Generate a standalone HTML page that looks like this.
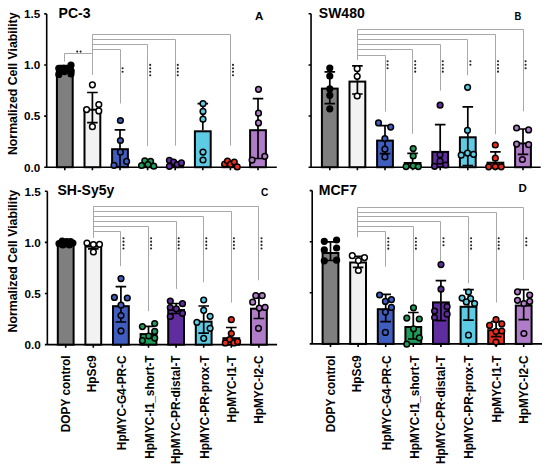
<!DOCTYPE html><html><head><meta charset="utf-8"><style>html,body{margin:0;padding:0;background:#fff;}svg{display:block;}text{font-family:"Liberation Sans",sans-serif;font-weight:bold;}</style></head><body>
<svg width="550" height="467" viewBox="0 0 550 467">
<g fill="none" stroke="#a8a8a8" stroke-width="1"><path d="M92.5 34.5H230.5V145.6"/><path d="M92.5 39.5H175.5V145.7"/><path d="M92.5 44.5H147.5V146"/><path d="M92.5 49.5H120.5V103.5"/><path d="M92.5 34.5V74.9"/></g>
<g fill="#222"><circle cx="233" cy="64.9" r="1.05"/><circle cx="233" cy="68.35" r="1.05"/><circle cx="233" cy="71.8" r="1.05"/><circle cx="233" cy="75.25" r="1.05"/><circle cx="177.8" cy="64.9" r="1.05"/><circle cx="177.8" cy="68.35" r="1.05"/><circle cx="177.8" cy="71.8" r="1.05"/><circle cx="177.8" cy="75.25" r="1.05"/><circle cx="150.2" cy="64.9" r="1.05"/><circle cx="150.2" cy="68.35" r="1.05"/><circle cx="150.2" cy="71.8" r="1.05"/><circle cx="150.2" cy="75.25" r="1.05"/><circle cx="122.6" cy="68.3" r="1.05"/><circle cx="122.6" cy="71.75" r="1.05"/></g>
<path d="M46.7 13.9V167.2M44.2 167.2H276.8M44.2 116.1H46.7M44.2 65H46.7M44.2 13.9H46.7M64.8 167.2V170.2M92.4 167.2V170.2M120 167.2V170.2M147.6 167.2V170.2M175.2 167.2V170.2M202.8 167.2V170.2M230.4 167.2V170.2M258 167.2V170.2" fill="none" stroke="#000" stroke-width="1.6"/>
<rect x="56.9" y="68" width="15.8" height="99.2" fill="#7f7f7f" stroke="#000" stroke-width="2"/>
<rect x="84.5" y="109.7" width="15.8" height="57.5" fill="#f2f2f2" stroke="#000" stroke-width="2"/>
<rect x="112.1" y="149.2" width="15.8" height="18" fill="#3f5ebf" stroke="#000" stroke-width="2"/>
<rect x="139.7" y="165" width="15.8" height="2.2" fill="#1f9e5b" stroke="#000" stroke-width="2"/>
<rect x="167.3" y="165" width="15.8" height="2.2" fill="#602d9e" stroke="#000" stroke-width="2"/>
<rect x="194.9" y="131.3" width="15.8" height="35.9" fill="#5ecbe4" stroke="#000" stroke-width="2"/>
<rect x="222.5" y="165" width="15.8" height="2.2" fill="#ec2d1e" stroke="#000" stroke-width="2"/>
<rect x="250.1" y="130.2" width="15.8" height="37" fill="#b07cc8" stroke="#000" stroke-width="2"/>
<g fill="none" stroke="#000" stroke-width="1.7"><path d="M59.5 65.5H70.1M64.8 65.5V67"/><path d="M64.8 67V71.5M59.5 71.5H70.1"/><path d="M87.1 92.5H97.7M92.4 92.5V108.7"/><path d="M92.4 108.7V122.6M87.1 122.6H97.7"/><path d="M114.7 129.9H125.3M120 129.9V148.2"/><path d="M120 148.2V166.8M114.7 166.8H125.3"/><path d="M197.5 103.7H208.1M202.8 103.7V130.3"/><path d="M252.7 98.7H263.3M258 98.7V129.2"/><path d="M258 129.2V158.5M252.7 158.5H263.3"/></g>
<g fill="#000000" stroke="#000" stroke-width="1.5"><circle cx="58.8" cy="68.3" r="2.85"/><circle cx="63.8" cy="68.3" r="2.85"/><circle cx="67.8" cy="68.6" r="2.85"/><circle cx="71" cy="65.2" r="2.85"/><circle cx="71.2" cy="71" r="2.85"/><circle cx="64.5" cy="71.6" r="2.85"/><circle cx="58.8" cy="74.4" r="2.85"/><circle cx="71" cy="74" r="2.85"/></g>
<g fill="#ffffff" stroke="#000" stroke-width="1.5"><circle cx="92.4" cy="84.8" r="2.85"/><circle cx="86.6" cy="109.6" r="2.85"/><circle cx="98.8" cy="104.5" r="2.85"/><circle cx="98.8" cy="110.9" r="2.85"/><circle cx="92.4" cy="126.7" r="2.85"/></g>
<g fill="#3f5ebf" stroke="#000" stroke-width="1.5"><circle cx="120.4" cy="120.5" r="2.85"/><circle cx="120.4" cy="140.5" r="2.85"/><circle cx="120.4" cy="152.2" r="2.85"/><circle cx="126.6" cy="161.4" r="2.85"/><circle cx="114" cy="165.3" r="2.85"/></g>
<g fill="#1f9e5b" stroke="#000" stroke-width="1.5"><circle cx="144.8" cy="160.8" r="2.85"/><circle cx="150.6" cy="161.4" r="2.85"/><circle cx="141.6" cy="165.5" r="2.85"/><circle cx="148" cy="164.6" r="2.85"/><circle cx="153.8" cy="166.2" r="2.85"/></g>
<g fill="#602d9e" stroke="#000" stroke-width="1.5"><circle cx="169.4" cy="160.3" r="2.85"/><circle cx="173.7" cy="162" r="2.85"/><circle cx="177.2" cy="164.6" r="2.85"/><circle cx="181.4" cy="162.9" r="2.85"/><circle cx="169.4" cy="166.3" r="2.85"/></g>
<g fill="#5ecbe4" stroke="#000" stroke-width="1.5"><circle cx="203" cy="103.7" r="2.85"/><circle cx="203" cy="111.4" r="2.85"/><circle cx="203" cy="119.2" r="2.85"/><circle cx="203" cy="152.1" r="2.85"/><circle cx="203" cy="160" r="2.85"/></g>
<g fill="#ec2d1e" stroke="#000" stroke-width="1.5"><circle cx="224.7" cy="164" r="2.85"/><circle cx="227.5" cy="161" r="2.85"/><circle cx="230.4" cy="164.4" r="2.85"/><circle cx="234.3" cy="162" r="2.85"/><circle cx="237.2" cy="166.9" r="2.85"/></g>
<g fill="#b07cc8" stroke="#000" stroke-width="1.5"><circle cx="258.5" cy="89.3" r="2.85"/><circle cx="258.5" cy="113.2" r="2.85"/><circle cx="258.5" cy="122.9" r="2.85"/><circle cx="264.8" cy="156.3" r="2.85"/><circle cx="252.1" cy="160.1" r="2.85"/></g>
<text x="40.2" y="171.5" font-size="11.7" text-anchor="end">0.0</text>
<text x="40.2" y="120.4" font-size="11.7" text-anchor="end">0.5</text>
<text x="40.2" y="69.3" font-size="11.7" text-anchor="end">1.0</text>
<text x="40.2" y="18.2" font-size="11.7" text-anchor="end">1.5</text>
<text transform="translate(17.1 83.75) rotate(-90)" font-size="12.3" text-anchor="middle">Normalized Cell Viability</text>
<text transform="translate(58.6 18.2) scale(0.96 1)" font-size="14.6">PC-3</text>
<text transform="translate(255 19.8) scale(1.0 1)" font-size="11.5">A</text>
<g fill="none" stroke="#a8a8a8" stroke-width="1"><path d="M357.5 29.5H523.5V111.3"/><path d="M357.5 34.5H495.5V134.2"/><path d="M357.5 39.5H467.5V75.3"/><path d="M357.5 44.5H440.5V90.6"/><path d="M357.5 49.5H412.5V133.8"/><path d="M357.5 55.5H385.5V111.6"/><path d="M357.5 29.5V60"/></g>
<g fill="#222"><circle cx="525.6" cy="61.3" r="1.05"/><circle cx="525.6" cy="64.75" r="1.05"/><circle cx="525.6" cy="68.2" r="1.05"/><circle cx="498" cy="61.3" r="1.05"/><circle cx="498" cy="64.75" r="1.05"/><circle cx="498" cy="68.2" r="1.05"/><circle cx="498" cy="71.65" r="1.05"/><circle cx="470.4" cy="61.3" r="1.05"/><circle cx="470.4" cy="64.75" r="1.05"/><circle cx="442.8" cy="61.3" r="1.05"/><circle cx="442.8" cy="64.75" r="1.05"/><circle cx="442.8" cy="68.2" r="1.05"/><circle cx="442.8" cy="71.65" r="1.05"/><circle cx="415.2" cy="61.3" r="1.05"/><circle cx="415.2" cy="64.75" r="1.05"/><circle cx="415.2" cy="68.2" r="1.05"/><circle cx="415.2" cy="71.65" r="1.05"/><circle cx="387.6" cy="61.3" r="1.05"/><circle cx="387.6" cy="64.75" r="1.05"/><circle cx="387.6" cy="68.2" r="1.05"/></g>
<path d="M311.05 13.8V167.2M308.55 167.2H540.7M308.55 116.07H311.05M308.55 64.93H311.05M308.55 13.8H311.05M329.8 167.2V170.2M357.4 167.2V170.2M385 167.2V170.2M412.6 167.2V170.2M440.2 167.2V170.2M467.8 167.2V170.2M495.4 167.2V170.2M523 167.2V170.2" fill="none" stroke="#000" stroke-width="1.6"/>
<rect x="321.9" y="88.6" width="15.8" height="78.6" fill="#7f7f7f" stroke="#000" stroke-width="2"/>
<rect x="349.5" y="81.6" width="15.8" height="85.6" fill="#f2f2f2" stroke="#000" stroke-width="2"/>
<rect x="377.1" y="140.6" width="15.8" height="26.6" fill="#3f5ebf" stroke="#000" stroke-width="2"/>
<rect x="404.7" y="163" width="15.8" height="4.2" fill="#1f9e5b" stroke="#000" stroke-width="2"/>
<rect x="432.3" y="151.9" width="15.8" height="15.3" fill="#602d9e" stroke="#000" stroke-width="2"/>
<rect x="459.9" y="137.3" width="15.8" height="29.9" fill="#5ecbe4" stroke="#000" stroke-width="2"/>
<rect x="487.5" y="162.7" width="15.8" height="4.5" fill="#ec2d1e" stroke="#000" stroke-width="2"/>
<rect x="515.1" y="143.4" width="15.8" height="23.8" fill="#b07cc8" stroke="#000" stroke-width="2"/>
<g fill="none" stroke="#000" stroke-width="1.7"><path d="M324.5 71.8H335.1M329.8 71.8V87.6"/><path d="M329.8 87.6V103.7M324.5 103.7H335.1"/><path d="M352.1 65.8H362.7M357.4 65.8V80.6"/><path d="M357.4 80.6V94M352.1 94H362.7"/><path d="M379.7 125.7H390.3M385 125.7V139.6"/><path d="M385 139.6V153.7M379.7 153.7H390.3"/><path d="M407.3 153.4H417.9M412.6 153.4V162"/><path d="M434.9 124.6H445.5M440.2 124.6V150.9"/><path d="M462.5 106.8H473.1M467.8 106.8V136.3"/><path d="M467.8 136.3V165.5M462.5 165.5H473.1"/><path d="M490.1 151.8H500.7M495.4 151.8V161.7"/><path d="M517.7 129H528.3M523 129V142.4"/><path d="M523 142.4V154.3M517.7 154.3H528.3"/></g>
<g fill="#000000" stroke="#000" stroke-width="1.5"><circle cx="329.8" cy="68" r="2.85"/><circle cx="329.8" cy="76" r="2.85"/><circle cx="329.8" cy="88.9" r="2.85"/><circle cx="329.8" cy="95.3" r="2.85"/><circle cx="329.8" cy="108.8" r="2.85"/></g>
<g fill="#ffffff" stroke="#000" stroke-width="1.5"><circle cx="357.2" cy="68.7" r="2.85"/><circle cx="357.2" cy="76.3" r="2.85"/><circle cx="357.2" cy="96" r="2.85"/></g>
<g fill="#3f5ebf" stroke="#000" stroke-width="1.5"><circle cx="378.5" cy="122.9" r="2.85"/><circle cx="390.7" cy="127.1" r="2.85"/><circle cx="384.9" cy="138.5" r="2.85"/><circle cx="384.9" cy="149.2" r="2.85"/><circle cx="384.9" cy="156.9" r="2.85"/></g>
<g fill="#1f9e5b" stroke="#000" stroke-width="1.5"><circle cx="413.2" cy="148.6" r="2.85"/><circle cx="413.2" cy="156" r="2.85"/><circle cx="406.1" cy="166.6" r="2.85"/><circle cx="413.2" cy="165.9" r="2.85"/><circle cx="418.3" cy="166.6" r="2.85"/></g>
<g fill="#602d9e" stroke="#000" stroke-width="1.5"><circle cx="440.1" cy="105.2" r="2.85"/><circle cx="440" cy="154.8" r="2.85"/><circle cx="440" cy="161.2" r="2.85"/><circle cx="434.6" cy="166.3" r="2.85"/><circle cx="445.7" cy="165" r="2.85"/></g>
<g fill="#5ecbe4" stroke="#000" stroke-width="1.5"><circle cx="467.6" cy="87.3" r="2.85"/><circle cx="467.5" cy="130.3" r="2.85"/><circle cx="461.2" cy="155.2" r="2.85"/><circle cx="467.5" cy="153.1" r="2.85"/><circle cx="473.5" cy="154.3" r="2.85"/></g>
<g fill="#ec2d1e" stroke="#000" stroke-width="1.5"><circle cx="495.3" cy="145" r="2.85"/><circle cx="495.3" cy="158.2" r="2.85"/><circle cx="488.7" cy="166.8" r="2.85"/><circle cx="495.3" cy="166.6" r="2.85"/><circle cx="501.2" cy="166.8" r="2.85"/></g>
<g fill="#b07cc8" stroke="#000" stroke-width="1.5"><circle cx="516.6" cy="128" r="2.85"/><circle cx="528.6" cy="129.9" r="2.85"/><circle cx="516.6" cy="144.1" r="2.85"/><circle cx="528.6" cy="144.7" r="2.85"/><circle cx="522.4" cy="159.5" r="2.85"/></g>
<text transform="translate(318.8 18) scale(0.96 1)" font-size="14.6">SW480</text>
<text transform="translate(514.5 19.8) scale(0.8 1)" font-size="11.8">B</text>
<g fill="none" stroke="#a8a8a8" stroke-width="1"><path d="M93.5 206.5H258.5V280.3"/><path d="M93.5 211.5H231.5V302.6"/><path d="M93.5 216.5H203.5V282.3"/><path d="M93.5 221.5H176.5V288.9"/><path d="M93.5 226.5H148.5V311.2"/><path d="M93.5 231.5H120.5V266.1"/><path d="M93.5 206.5V237.9"/></g>
<g fill="#222"><circle cx="261.5" cy="238.2" r="1.05"/><circle cx="261.5" cy="241.65" r="1.05"/><circle cx="261.5" cy="245.1" r="1.05"/><circle cx="261.5" cy="248.55" r="1.05"/><circle cx="233.9" cy="238.2" r="1.05"/><circle cx="233.9" cy="241.65" r="1.05"/><circle cx="233.9" cy="245.1" r="1.05"/><circle cx="233.9" cy="248.55" r="1.05"/><circle cx="206.3" cy="238.2" r="1.05"/><circle cx="206.3" cy="241.65" r="1.05"/><circle cx="206.3" cy="245.1" r="1.05"/><circle cx="206.3" cy="248.55" r="1.05"/><circle cx="178.7" cy="238.2" r="1.05"/><circle cx="178.7" cy="241.65" r="1.05"/><circle cx="178.7" cy="245.1" r="1.05"/><circle cx="178.7" cy="248.55" r="1.05"/><circle cx="151.1" cy="238.2" r="1.05"/><circle cx="151.1" cy="241.65" r="1.05"/><circle cx="151.1" cy="245.1" r="1.05"/><circle cx="151.1" cy="248.55" r="1.05"/><circle cx="123.5" cy="238.2" r="1.05"/><circle cx="123.5" cy="241.65" r="1.05"/><circle cx="123.5" cy="245.1" r="1.05"/><circle cx="123.5" cy="248.55" r="1.05"/></g>
<path d="M47.35 191.3V344.65M44.85 344.65H277.1M44.85 293.53H47.35M44.85 242.42H47.35M44.85 191.3H47.35M65.7 344.65V347.65M93.3 344.65V347.65M120.9 344.65V347.65M148.5 344.65V347.65M176.1 344.65V347.65M203.7 344.65V347.65M231.3 344.65V347.65M258.9 344.65V347.65" fill="none" stroke="#000" stroke-width="1.6"/>
<rect x="57.8" y="242.7" width="15.8" height="101.95" fill="#7f7f7f" stroke="#000" stroke-width="2"/>
<rect x="85.4" y="246.6" width="15.8" height="98.05" fill="#f2f2f2" stroke="#000" stroke-width="2"/>
<rect x="113" y="306.2" width="15.8" height="38.45" fill="#3f5ebf" stroke="#000" stroke-width="2"/>
<rect x="140.6" y="334.1" width="15.8" height="10.55" fill="#1f9e5b" stroke="#000" stroke-width="2"/>
<rect x="168.2" y="310" width="15.8" height="34.65" fill="#602d9e" stroke="#000" stroke-width="2"/>
<rect x="195.8" y="321.6" width="15.8" height="23.05" fill="#5ecbe4" stroke="#000" stroke-width="2"/>
<rect x="223.4" y="338.2" width="15.8" height="6.45" fill="#ec2d1e" stroke="#000" stroke-width="2"/>
<rect x="251" y="308.7" width="15.8" height="35.95" fill="#b07cc8" stroke="#000" stroke-width="2"/>
<g fill="none" stroke="#000" stroke-width="1.7"><path d="M60.4 241H71M65.7 241V241.7"/><path d="M88 243.5H98.6M93.3 243.5V245.6"/><path d="M93.3 245.6V248.8M88 248.8H98.6"/><path d="M115.6 286.6H126.2M120.9 286.6V305.2"/><path d="M120.9 305.2V322M115.6 322H126.2"/><path d="M143.2 326.3H153.8M148.5 326.3V333.1"/><path d="M170.8 303.5H181.4M176.1 303.5V309"/><path d="M176.1 309V313.5M170.8 313.5H181.4"/><path d="M198.4 306H209M203.7 306V320.6"/><path d="M203.7 320.6V333.1M198.4 333.1H209"/><path d="M226 327.5H236.6M231.3 327.5V337.2"/><path d="M253.6 297H264.2M258.9 297V307.7"/><path d="M258.9 307.7V318.5M253.6 318.5H264.2"/></g>
<g fill="#000000" stroke="#000" stroke-width="1.5"><circle cx="59" cy="243.6" r="2.85"/><circle cx="62.2" cy="241" r="2.85"/><circle cx="66.7" cy="241.7" r="2.85"/><circle cx="70.6" cy="241.5" r="2.85"/><circle cx="72.9" cy="243" r="2.85"/><circle cx="69.3" cy="244.9" r="2.85"/><circle cx="62.9" cy="244.9" r="2.85"/></g>
<g fill="#ffffff" stroke="#000" stroke-width="1.5"><circle cx="87" cy="243" r="2.85"/><circle cx="93.4" cy="244.5" r="2.85"/><circle cx="99.5" cy="244.3" r="2.85"/><circle cx="93.4" cy="252" r="2.85"/></g>
<g fill="#3f5ebf" stroke="#000" stroke-width="1.5"><circle cx="121" cy="278.6" r="2.85"/><circle cx="114.4" cy="297.4" r="2.85"/><circle cx="127.3" cy="298" r="2.85"/><circle cx="121" cy="305.2" r="2.85"/><circle cx="121" cy="315.5" r="2.85"/><circle cx="121" cy="330.9" r="2.85"/></g>
<g fill="#1f9e5b" stroke="#000" stroke-width="1.5"><circle cx="142.4" cy="326.6" r="2.85"/><circle cx="154.7" cy="323.5" r="2.85"/><circle cx="154.7" cy="331.4" r="2.85"/><circle cx="148.7" cy="336" r="2.85"/><circle cx="154.7" cy="338.1" r="2.85"/><circle cx="142.4" cy="340.7" r="2.85"/></g>
<g fill="#602d9e" stroke="#000" stroke-width="1.5"><circle cx="170.3" cy="301.1" r="2.85"/><circle cx="182.5" cy="303.7" r="2.85"/><circle cx="170.3" cy="307.5" r="2.85"/><circle cx="176.3" cy="308.8" r="2.85"/><circle cx="182.5" cy="313.3" r="2.85"/><circle cx="170.3" cy="316.5" r="2.85"/></g>
<g fill="#5ecbe4" stroke="#000" stroke-width="1.5"><circle cx="203.7" cy="300" r="2.85"/><circle cx="203.7" cy="310.3" r="2.85"/><circle cx="210.1" cy="316.3" r="2.85"/><circle cx="196.9" cy="322.3" r="2.85"/><circle cx="210.1" cy="328.3" r="2.85"/><circle cx="203.7" cy="338.3" r="2.85"/></g>
<g fill="#ec2d1e" stroke="#000" stroke-width="1.5"><circle cx="231.3" cy="319.7" r="2.85"/><circle cx="231.3" cy="333.5" r="2.85"/><circle cx="229.6" cy="339.5" r="2.85"/><circle cx="225.3" cy="342.9" r="2.85"/><circle cx="233.9" cy="342.9" r="2.85"/><circle cx="237.6" cy="341.7" r="2.85"/></g>
<g fill="#b07cc8" stroke="#000" stroke-width="1.5"><circle cx="255.8" cy="295.7" r="2.85"/><circle cx="262.2" cy="295.7" r="2.85"/><circle cx="252.7" cy="302.2" r="2.85"/><circle cx="259.3" cy="308.1" r="2.85"/><circle cx="265.1" cy="307.4" r="2.85"/><circle cx="258.5" cy="328.3" r="2.85"/></g>
<text x="40.85" y="348.95" font-size="11.7" text-anchor="end">0.0</text>
<text x="40.85" y="297.83" font-size="11.7" text-anchor="end">0.5</text>
<text x="40.85" y="246.72" font-size="11.7" text-anchor="end">1.0</text>
<text x="40.85" y="195.6" font-size="11.7" text-anchor="end">1.5</text>
<text transform="translate(17.1 261.18) rotate(-90)" font-size="12.3" text-anchor="middle">Normalized Cell Viability</text>
<text transform="translate(57.5 194.6) scale(0.96 1)" font-size="14.6">SH-Sy5y</text>
<text transform="translate(261.1 195.6) scale(0.88 1)" font-size="11.5">C</text>
<g fill="none" stroke="#a8a8a8" stroke-width="1"><path d="M357.5 207.5H523.5V280"/><path d="M357.5 212.5H496.5V302.5"/><path d="M357.5 216.5H468.5V283.2"/><path d="M357.5 221.5H440.5V261.5"/><path d="M357.5 226.5H413.5V304.6"/><path d="M357.5 231.5H385.5V266.7"/><path d="M357.5 207.5V237.1"/></g>
<g fill="#222"><circle cx="526.3" cy="238.3" r="1.05"/><circle cx="526.3" cy="241.75" r="1.05"/><circle cx="526.3" cy="245.2" r="1.05"/><circle cx="498.7" cy="238.3" r="1.05"/><circle cx="498.7" cy="241.75" r="1.05"/><circle cx="498.7" cy="245.2" r="1.05"/><circle cx="498.7" cy="248.65" r="1.05"/><circle cx="471.1" cy="238.3" r="1.05"/><circle cx="471.1" cy="241.75" r="1.05"/><circle cx="471.1" cy="245.2" r="1.05"/><circle cx="471.1" cy="248.65" r="1.05"/><circle cx="443.5" cy="238.3" r="1.05"/><circle cx="443.5" cy="241.75" r="1.05"/><circle cx="443.5" cy="245.2" r="1.05"/><circle cx="415.9" cy="238.3" r="1.05"/><circle cx="415.9" cy="241.75" r="1.05"/><circle cx="415.9" cy="245.2" r="1.05"/><circle cx="415.9" cy="248.65" r="1.05"/><circle cx="388.3" cy="238.3" r="1.05"/><circle cx="388.3" cy="241.75" r="1.05"/><circle cx="388.3" cy="245.2" r="1.05"/><circle cx="388.3" cy="248.65" r="1.05"/></g>
<path d="M312.2 190.6V343.9M309.7 343.9H542M309.7 292.8H312.2M309.7 241.7H312.2M309.7 190.6H312.2M330.5 343.9V346.9M358.1 343.9V346.9M385.7 343.9V346.9M413.3 343.9V346.9M440.9 343.9V346.9M468.5 343.9V346.9M496.1 343.9V346.9M523.7 343.9V346.9" fill="none" stroke="#000" stroke-width="1.6"/>
<rect x="322.6" y="253" width="15.8" height="90.9" fill="#7f7f7f" stroke="#000" stroke-width="2"/>
<rect x="350.2" y="262.5" width="15.8" height="81.4" fill="#f2f2f2" stroke="#000" stroke-width="2"/>
<rect x="377.8" y="309.2" width="15.8" height="34.7" fill="#3f5ebf" stroke="#000" stroke-width="2"/>
<rect x="405.4" y="327" width="15.8" height="16.9" fill="#1f9e5b" stroke="#000" stroke-width="2"/>
<rect x="433" y="302.4" width="15.8" height="41.5" fill="#602d9e" stroke="#000" stroke-width="2"/>
<rect x="460.6" y="306.8" width="15.8" height="37.1" fill="#5ecbe4" stroke="#000" stroke-width="2"/>
<rect x="488.2" y="330.2" width="15.8" height="13.7" fill="#ec2d1e" stroke="#000" stroke-width="2"/>
<rect x="515.8" y="305.6" width="15.8" height="38.3" fill="#b07cc8" stroke="#000" stroke-width="2"/>
<g fill="none" stroke="#000" stroke-width="1.7"><path d="M325.2 241.8H335.8M330.5 241.8V252"/><path d="M330.5 252V260.5M325.2 260.5H335.8"/><path d="M352.8 256.3H363.4M358.1 256.3V261.5"/><path d="M358.1 261.5V267.3M352.8 267.3H363.4"/><path d="M380.4 294.3H391M385.7 294.3V308.2"/><path d="M385.7 308.2V321.7M380.4 321.7H391"/><path d="M408 312.5H418.6M413.3 312.5V326"/><path d="M413.3 326V339M408 339H418.6"/><path d="M435.6 280.6H446.2M440.9 280.6V301.4"/><path d="M440.9 301.4V320.7M435.6 320.7H446.2"/><path d="M463.2 289.6H473.8M468.5 289.6V305.8"/><path d="M468.5 305.8V320.2M463.2 320.2H473.8"/><path d="M490.8 321.7H501.4M496.1 321.7V329.2"/><path d="M496.1 329.2V336.7M490.8 336.7H501.4"/><path d="M518.4 289.6H529M523.7 289.6V304.6"/><path d="M523.7 304.6V319.6M518.4 319.6H529"/></g>
<g fill="#000000" stroke="#000" stroke-width="1.5"><circle cx="324.3" cy="241.3" r="2.85"/><circle cx="336.6" cy="240" r="2.85"/><circle cx="324.3" cy="249.9" r="2.85"/><circle cx="336.6" cy="248" r="2.85"/><circle cx="324.3" cy="260.8" r="2.85"/><circle cx="336.6" cy="260.2" r="2.85"/></g>
<g fill="#ffffff" stroke="#000" stroke-width="1.5"><circle cx="352.3" cy="255.7" r="2.85"/><circle cx="364.5" cy="257.6" r="2.85"/><circle cx="358.4" cy="260.6" r="2.85"/><circle cx="358.4" cy="270.5" r="2.85"/></g>
<g fill="#3f5ebf" stroke="#000" stroke-width="1.5"><circle cx="379.6" cy="295" r="2.85"/><circle cx="391.4" cy="299.7" r="2.85"/><circle cx="385.4" cy="301.4" r="2.85"/><circle cx="391.4" cy="307.4" r="2.85"/><circle cx="385.4" cy="312.1" r="2.85"/><circle cx="385.4" cy="332.4" r="2.85"/></g>
<g fill="#1f9e5b" stroke="#000" stroke-width="1.5"><circle cx="413.5" cy="307.8" r="2.85"/><circle cx="406.8" cy="318.1" r="2.85"/><circle cx="419.3" cy="319" r="2.85"/><circle cx="413.5" cy="328.8" r="2.85"/><circle cx="419.3" cy="337.8" r="2.85"/><circle cx="406.8" cy="344.2" r="2.85"/></g>
<g fill="#602d9e" stroke="#000" stroke-width="1.5"><circle cx="441" cy="264.6" r="2.85"/><circle cx="441" cy="289.2" r="2.85"/><circle cx="434.6" cy="311" r="2.85"/><circle cx="447.1" cy="306.7" r="2.85"/><circle cx="447.1" cy="314.2" r="2.85"/><circle cx="434.6" cy="317.5" r="2.85"/></g>
<g fill="#5ecbe4" stroke="#000" stroke-width="1.5"><circle cx="468.5" cy="292" r="2.85"/><circle cx="462.1" cy="298.1" r="2.85"/><circle cx="470.6" cy="298.7" r="2.85"/><circle cx="466.3" cy="301.9" r="2.85"/><circle cx="474.6" cy="303.5" r="2.85"/><circle cx="468.5" cy="335.2" r="2.85"/></g>
<g fill="#ec2d1e" stroke="#000" stroke-width="1.5"><circle cx="496" cy="319.6" r="2.85"/><circle cx="489.6" cy="325.4" r="2.85"/><circle cx="501.8" cy="323.9" r="2.85"/><circle cx="496" cy="331.4" r="2.85"/><circle cx="501.8" cy="331" r="2.85"/><circle cx="496" cy="342.1" r="2.85"/></g>
<g fill="#b07cc8" stroke="#000" stroke-width="1.5"><circle cx="517.5" cy="291.8" r="2.85"/><circle cx="529.7" cy="295" r="2.85"/><circle cx="517.5" cy="300.3" r="2.85"/><circle cx="523.9" cy="303.5" r="2.85"/><circle cx="529.7" cy="301.4" r="2.85"/><circle cx="523.9" cy="333.5" r="2.85"/></g>
<text transform="translate(318.8 194.7) scale(0.96 1)" font-size="14.6">MCF7</text>
<text transform="translate(518.5 191.8) scale(1.0 1)" font-size="11.5">D</text>
<path d="M64.5 61.6V53.5H92.5" fill="none" stroke="#a8a8a8" stroke-width="1"/>
<g fill="#222"><circle cx="77.2" cy="51.6" r="1.05"/><circle cx="80.6" cy="51.6" r="1.05"/></g>
<text transform="translate(70.27 355.4) rotate(-90)" font-size="11.85" text-anchor="end">DOPY control</text>
<text transform="translate(96.37 355.4) rotate(-90)" font-size="11.85" text-anchor="end">HpSc9</text>
<text transform="translate(126.12 355.4) rotate(-90)" font-size="11.85" text-anchor="end">HpMYC-G4-PR-C</text>
<text transform="translate(153.92 355.4) rotate(-90)" font-size="11.85" text-anchor="end">HpMYC-I1_short-T</text>
<text transform="translate(180.32 355.4) rotate(-90)" font-size="11.85" text-anchor="end">HpMYC-PR-distal-T</text>
<text transform="translate(208.67 355.4) rotate(-90)" font-size="11.85" text-anchor="end">HpMYC-PR-prox-T</text>
<text transform="translate(236.02 355.4) rotate(-90)" font-size="11.85" text-anchor="end">HpMYC-I1-T</text>
<text transform="translate(263.02 355.4) rotate(-90)" font-size="11.85" text-anchor="end">HpMYC-I2-C</text>
<text transform="translate(335.07 355.4) rotate(-90)" font-size="11.85" text-anchor="end">DOPY control</text>
<text transform="translate(361.17 355.4) rotate(-90)" font-size="11.85" text-anchor="end">HpSc9</text>
<text transform="translate(390.92 355.4) rotate(-90)" font-size="11.85" text-anchor="end">HpMYC-G4-PR-C</text>
<text transform="translate(418.72 355.4) rotate(-90)" font-size="11.85" text-anchor="end">HpMYC-I1_short-T</text>
<text transform="translate(445.12 355.4) rotate(-90)" font-size="11.85" text-anchor="end">HpMYC-PR-distal-T</text>
<text transform="translate(473.47 355.4) rotate(-90)" font-size="11.85" text-anchor="end">HpMYC-PR-prox-T</text>
<text transform="translate(500.82 355.4) rotate(-90)" font-size="11.85" text-anchor="end">HpMYC-I1-T</text>
<text transform="translate(527.82 355.4) rotate(-90)" font-size="11.85" text-anchor="end">HpMYC-I2-C</text>
</svg></body></html>
